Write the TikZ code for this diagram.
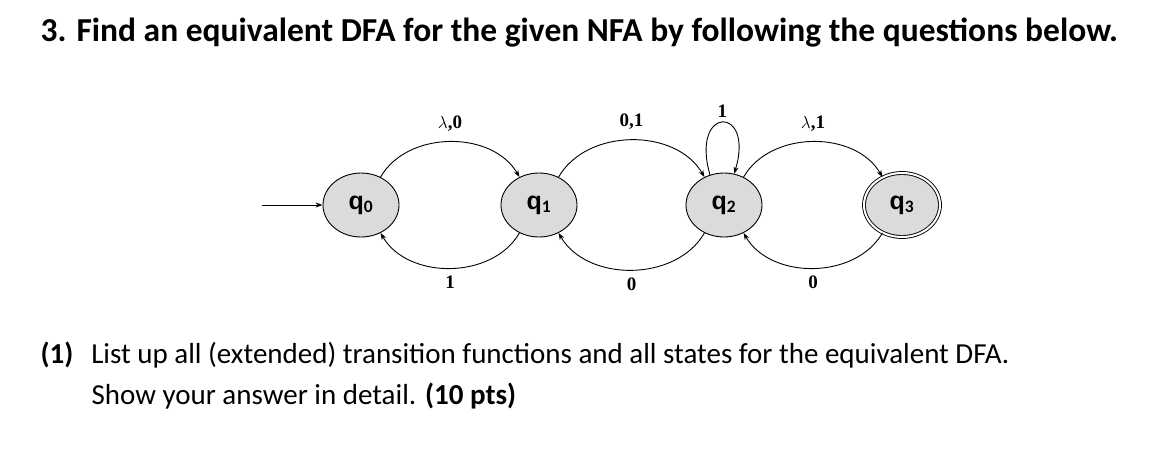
\documentclass[tikz,border=0pt]{standalone}
\usepackage{fontspec}
\setmainfont{Carlito}
\newfontfamily\statefont{Liberation Sans}
\newfontfamily\labfont{Liberation Serif}
\usetikzlibrary{arrows.meta,shapes.geometric}
\begin{document}
\begin{tikzpicture}[x=1pt,y=-1pt,
  st/.style={ellipse,draw,line width=0.9pt,fill=gray!28,minimum width=76pt,minimum height=64pt,inner sep=0pt,font=\statefont\bfseries\fontsize{25}{25}\selectfont},
  acc/.style={st,double,double distance=2pt},
  tr/.style={-{Stealth[length=7pt,width=5pt]},line width=0.9pt},
  lab/.style={font=\labfont\bfseries\fontsize{19}{19}\selectfont}]
\useasboundingbox (0,0) rectangle (1151,461);
\node[anchor=west,font=\bfseries\fontsize{33.5}{34}\selectfont] (title) at (37,33) {3. Find an equivalent DFA for the given NFA by following the questions below.};
\node[st] (q0) at (361,205) {q$_\mathbf{0}$};
\node[st] (q1) at (539,205) {q$_\mathbf{1}$};
\node[st] (q2) at (724,205) {q$_\mathbf{2}$};
\node[acc] (q3) at (902,205) {q$_\mathbf{3}$};
\coordinate (start) at (262,205);
\draw[tr] (start) -- (q0);
\draw[tr] (q0.55) to[out=60,in=120,looseness=1] node[lab,above=7pt] {$\lambda$,0} (q1.125);
\draw[tr] (q1.55) to[out=60,in=120,looseness=1] node[lab,above=7pt] {0,1} (q2.125);
\draw[tr] (q2.55) to[out=60,in=120,looseness=1] node[lab,above=7pt] {$\lambda$,1} (q3.125);
\draw[tr] (q1.-125) to[out=-120,in=-60,looseness=1] node[lab,below=4pt] {1} (q0.-55);
\draw[tr] (q2.-125) to[out=-120,in=-60,looseness=1] node[lab,below=4pt] {0} (q1.-55);
\draw[tr] (q3.-125) to[out=-120,in=-60,looseness=1] node[lab,below=4pt] {0} (q2.-55);
\draw[tr] (q2.115) .. controls (690,105) and (755,105) .. node[lab,above=1pt] {1} (q2.72);
\node[anchor=west,font=\fontsize{29}{29}\selectfont] (p1) at (37,355) {\textbf{(1)}\hspace{18pt}List up all (extended) transition functions and all states for the equivalent DFA.};
\node[anchor=west,font=\fontsize{29}{29}\selectfont] (p2) at (88,396) {Show your answer in detail. \textbf{(10 pts)}};
\end{tikzpicture}
\end{document}
